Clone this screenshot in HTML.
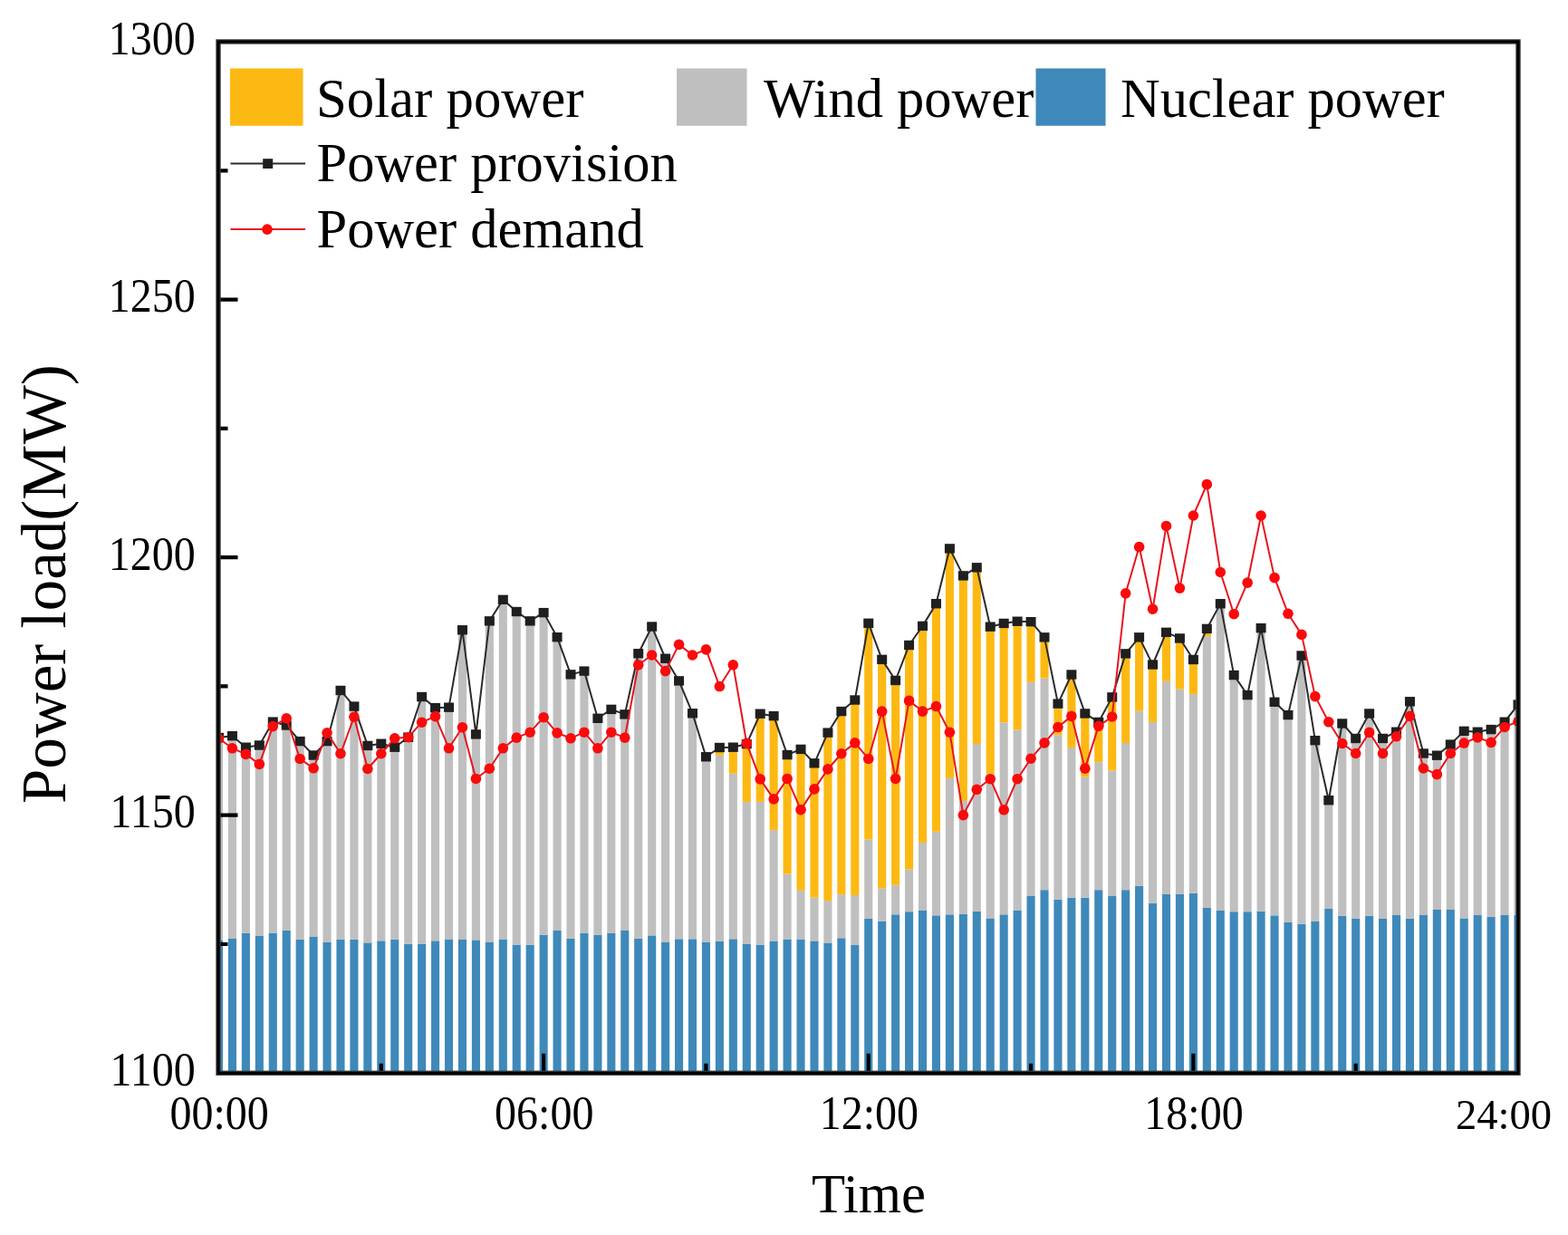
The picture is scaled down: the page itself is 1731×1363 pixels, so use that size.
<!DOCTYPE html>
<html lang="en"><head><meta charset="utf-8"><title>Power load</title>
<style>html,body{margin:0;padding:0;background:#fff;}body{width:1731px;height:1363px;overflow:hidden;}svg{display:block;}text{font-family:'Liberation Serif', 'Times New Roman', serif;fill:#000;}</style></head><body>
<svg width="1731" height="1363" viewBox="0 0 1731 1363" role="img" aria-label="Power load chart">
<rect x="0" y="0" width="1731" height="1363" fill="#ffffff"/>
<defs><clipPath id="plot"><rect x="241" y="46" width="1435" height="1138.3"/></clipPath></defs>
<g clip-path="url(#plot)" shape-rendering="auto">
<g fill="#3e89ba"><rect x="236.95" y="1038" width="9.1" height="146.3"/><rect x="251.89" y="1036" width="9.1" height="148.3"/><rect x="266.84" y="1029.6" width="9.1" height="154.7"/><rect x="281.78" y="1033" width="9.1" height="151.3"/><rect x="296.72" y="1029.6" width="9.1" height="154.7"/><rect x="311.66" y="1026.7" width="9.1" height="157.6"/><rect x="326.61" y="1036.8" width="9.1" height="147.5"/><rect x="341.55" y="1033.5" width="9.1" height="150.8"/><rect x="356.49" y="1039.7" width="9.1" height="144.6"/><rect x="371.43" y="1036.8" width="9.1" height="147.5"/><rect x="386.38" y="1036.8" width="9.1" height="147.5"/><rect x="401.32" y="1040.4" width="9.1" height="143.9"/><rect x="416.26" y="1038.3" width="9.1" height="146"/><rect x="431.21" y="1036.8" width="9.1" height="147.5"/><rect x="446.15" y="1041.9" width="9.1" height="142.4"/><rect x="461.09" y="1041.9" width="9.1" height="142.4"/><rect x="476.03" y="1038.3" width="9.1" height="146"/><rect x="490.98" y="1036.5" width="9.1" height="147.8"/><rect x="505.92" y="1037" width="9.1" height="147.3"/><rect x="520.86" y="1037.4" width="9.1" height="146.9"/><rect x="535.8" y="1040" width="9.1" height="144.3"/><rect x="550.75" y="1036.5" width="9.1" height="147.8"/><rect x="565.69" y="1042.6" width="9.1" height="141.7"/><rect x="580.63" y="1042.6" width="9.1" height="141.7"/><rect x="595.58" y="1031.8" width="9.1" height="152.5"/><rect x="610.52" y="1027" width="9.1" height="157.3"/><rect x="625.46" y="1035.9" width="9.1" height="148.4"/><rect x="640.4" y="1029.7" width="9.1" height="154.6"/><rect x="655.35" y="1031.8" width="9.1" height="152.5"/><rect x="670.29" y="1029.7" width="9.1" height="154.6"/><rect x="685.23" y="1027" width="9.1" height="157.3"/><rect x="700.17" y="1035.9" width="9.1" height="148.4"/><rect x="715.12" y="1032.4" width="9.1" height="151.9"/><rect x="730.06" y="1040" width="9.1" height="144.3"/><rect x="745" y="1036.3" width="9.1" height="148"/><rect x="759.94" y="1036.3" width="9.1" height="148"/><rect x="774.89" y="1040" width="9.1" height="144.3"/><rect x="789.83" y="1038.6" width="9.1" height="145.7"/><rect x="804.77" y="1036.3" width="9.1" height="148"/><rect x="819.72" y="1042" width="9.1" height="142.3"/><rect x="834.66" y="1042.6" width="9.1" height="141.7"/><rect x="849.6" y="1039" width="9.1" height="145.3"/><rect x="864.54" y="1036.5" width="9.1" height="147.8"/><rect x="879.49" y="1036.5" width="9.1" height="147.8"/><rect x="894.43" y="1038.4" width="9.1" height="145.9"/><rect x="909.37" y="1040.5" width="9.1" height="143.8"/><rect x="924.31" y="1035.3" width="9.1" height="149"/><rect x="939.26" y="1043" width="9.1" height="141.3"/><rect x="954.2" y="1014" width="9.1" height="170.3"/><rect x="969.14" y="1016.6" width="9.1" height="167.7"/><rect x="984.09" y="1009.3" width="9.1" height="175"/><rect x="999.03" y="1006.2" width="9.1" height="178.1"/><rect x="1013.97" y="1004.5" width="9.1" height="179.8"/><rect x="1028.91" y="1010.3" width="9.1" height="174"/><rect x="1043.86" y="1009.3" width="9.1" height="175"/><rect x="1058.8" y="1008.7" width="9.1" height="175.6"/><rect x="1073.74" y="1005.7" width="9.1" height="178.6"/><rect x="1088.68" y="1013.4" width="9.1" height="170.9"/><rect x="1103.63" y="1009.3" width="9.1" height="175"/><rect x="1118.57" y="1004.5" width="9.1" height="179.8"/><rect x="1133.51" y="988.5" width="9.1" height="195.8"/><rect x="1148.46" y="982.2" width="9.1" height="202.1"/><rect x="1163.4" y="992.6" width="9.1" height="191.7"/><rect x="1178.34" y="990.6" width="9.1" height="193.7"/><rect x="1193.28" y="990.6" width="9.1" height="193.7"/><rect x="1208.23" y="982.2" width="9.1" height="202.1"/><rect x="1223.17" y="988.5" width="9.1" height="195.8"/><rect x="1238.11" y="982.2" width="9.1" height="202.1"/><rect x="1253.05" y="978" width="9.1" height="206.3"/><rect x="1268" y="996.8" width="9.1" height="187.5"/><rect x="1282.94" y="987" width="9.1" height="197.3"/><rect x="1297.88" y="987" width="9.1" height="197.3"/><rect x="1312.83" y="985.8" width="9.1" height="198.5"/><rect x="1327.77" y="1002" width="9.1" height="182.3"/><rect x="1342.71" y="1005" width="9.1" height="179.3"/><rect x="1357.65" y="1006.2" width="9.1" height="178.1"/><rect x="1372.6" y="1006.2" width="9.1" height="178.1"/><rect x="1387.54" y="1005.7" width="9.1" height="178.6"/><rect x="1402.48" y="1010.3" width="9.1" height="174"/><rect x="1417.42" y="1017.6" width="9.1" height="166.7"/><rect x="1432.37" y="1019.7" width="9.1" height="164.6"/><rect x="1447.31" y="1017" width="9.1" height="167.3"/><rect x="1462.25" y="1003" width="9.1" height="181.3"/><rect x="1477.19" y="1010.7" width="9.1" height="173.6"/><rect x="1492.14" y="1014" width="9.1" height="170.3"/><rect x="1507.08" y="1010.7" width="9.1" height="173.6"/><rect x="1522.02" y="1014" width="9.1" height="170.3"/><rect x="1536.97" y="1010" width="9.1" height="174.3"/><rect x="1551.91" y="1014" width="9.1" height="170.3"/><rect x="1566.85" y="1010" width="9.1" height="174.3"/><rect x="1581.79" y="1004" width="9.1" height="180.3"/><rect x="1596.74" y="1004" width="9.1" height="180.3"/><rect x="1611.68" y="1013.4" width="9.1" height="170.9"/><rect x="1626.62" y="1010" width="9.1" height="174.3"/><rect x="1641.56" y="1011.6" width="9.1" height="172.7"/><rect x="1656.51" y="1010" width="9.1" height="174.3"/><rect x="1671.45" y="1010" width="9.1" height="174.3"/></g>
<g fill="#bfbfbf"><rect x="236.95" y="814" width="9.1" height="224"/><rect x="251.89" y="812.15" width="9.1" height="223.85"/><rect x="266.84" y="824.7" width="9.1" height="204.9"/><rect x="281.78" y="822.49" width="9.1" height="210.51"/><rect x="296.72" y="796.62" width="9.1" height="232.98"/><rect x="311.66" y="800.48" width="9.1" height="226.22"/><rect x="326.61" y="818.09" width="9.1" height="218.71"/><rect x="341.55" y="833.5" width="9.1" height="200"/><rect x="356.49" y="818.09" width="9.1" height="221.61"/><rect x="371.43" y="761.97" width="9.1" height="274.83"/><rect x="386.38" y="779.57" width="9.1" height="257.23"/><rect x="401.32" y="822.93" width="9.1" height="217.47"/><rect x="416.26" y="820.73" width="9.1" height="217.57"/><rect x="431.21" y="824.7" width="9.1" height="212.1"/><rect x="446.15" y="813.69" width="9.1" height="228.21"/><rect x="461.09" y="769.01" width="9.1" height="272.89"/><rect x="476.03" y="781.12" width="9.1" height="257.18"/><rect x="490.98" y="780.67" width="9.1" height="255.83"/><rect x="505.92" y="695.28" width="9.1" height="341.72"/><rect x="520.86" y="810.39" width="9.1" height="227.01"/><rect x="535.8" y="685.37" width="9.1" height="354.63"/><rect x="550.75" y="661.82" width="9.1" height="374.68"/><rect x="565.69" y="675.03" width="9.1" height="367.57"/><rect x="580.63" y="685.37" width="9.1" height="357.23"/><rect x="595.58" y="676.13" width="9.1" height="355.67"/><rect x="610.52" y="703.2" width="9.1" height="323.8"/><rect x="625.46" y="744.36" width="9.1" height="291.54"/><rect x="640.4" y="740.62" width="9.1" height="289.08"/><rect x="655.35" y="792.78" width="9.1" height="239.02"/><rect x="670.29" y="782.88" width="9.1" height="246.82"/><rect x="685.23" y="788.38" width="9.1" height="238.62"/><rect x="700.17" y="721.25" width="9.1" height="314.65"/><rect x="715.12" y="691.53" width="9.1" height="340.87"/><rect x="730.06" y="726.75" width="9.1" height="313.25"/><rect x="745" y="751.4" width="9.1" height="284.9"/><rect x="759.94" y="787.28" width="9.1" height="249.02"/><rect x="774.89" y="835.26" width="9.1" height="204.74"/><rect x="789.83" y="833.8" width="9.1" height="204.8"/><rect x="804.77" y="853.73" width="9.1" height="182.57"/><rect x="819.72" y="884.92" width="9.1" height="157.08"/><rect x="834.66" y="884.92" width="9.1" height="157.68"/><rect x="849.6" y="916.12" width="9.1" height="122.88"/><rect x="864.54" y="964.64" width="9.1" height="71.86"/><rect x="879.49" y="982.84" width="9.1" height="53.66"/><rect x="894.43" y="990.64" width="9.1" height="47.76"/><rect x="909.37" y="994.11" width="9.1" height="46.39"/><rect x="924.31" y="987.18" width="9.1" height="48.12"/><rect x="939.26" y="988.04" width="9.1" height="54.96"/><rect x="954.2" y="926.52" width="9.1" height="87.48"/><rect x="969.14" y="980.24" width="9.1" height="36.36"/><rect x="984.09" y="976.78" width="9.1" height="32.52"/><rect x="999.03" y="959.45" width="9.1" height="46.75"/><rect x="1013.97" y="929.98" width="9.1" height="74.52"/><rect x="1028.91" y="917.85" width="9.1" height="92.45"/><rect x="1043.86" y="858.93" width="9.1" height="150.37"/><rect x="1058.8" y="884" width="9.1" height="124.7"/><rect x="1073.74" y="821.02" width="9.1" height="184.68"/><rect x="1088.68" y="853.95" width="9.1" height="159.45"/><rect x="1103.63" y="797.33" width="9.1" height="211.97"/><rect x="1118.57" y="805.42" width="9.1" height="199.08"/><rect x="1133.51" y="752.88" width="9.1" height="235.62"/><rect x="1148.46" y="748.47" width="9.1" height="233.73"/><rect x="1163.4" y="811.2" width="9.1" height="181.4"/><rect x="1178.34" y="825.06" width="9.1" height="165.54"/><rect x="1193.28" y="857.41" width="9.1" height="133.19"/><rect x="1208.23" y="841.24" width="9.1" height="140.96"/><rect x="1223.17" y="850.48" width="9.1" height="138.02"/><rect x="1238.11" y="820.01" width="9.1" height="162.19"/><rect x="1253.05" y="784.79" width="9.1" height="193.21"/><rect x="1268" y="796.9" width="9.1" height="199.9"/><rect x="1282.94" y="751.78" width="9.1" height="235.22"/><rect x="1297.88" y="760.58" width="9.1" height="226.42"/><rect x="1312.83" y="766.08" width="9.1" height="219.72"/><rect x="1327.77" y="702.25" width="9.1" height="299.75"/><rect x="1342.71" y="666.27" width="9.1" height="338.73"/><rect x="1357.65" y="745.07" width="9.1" height="261.13"/><rect x="1372.6" y="767.08" width="9.1" height="239.12"/><rect x="1387.54" y="693.13" width="9.1" height="312.57"/><rect x="1402.48" y="774.78" width="9.1" height="235.52"/><rect x="1417.42" y="789.09" width="9.1" height="228.51"/><rect x="1432.37" y="723.5" width="9.1" height="296.2"/><rect x="1447.31" y="817.18" width="9.1" height="199.82"/><rect x="1462.25" y="883.21" width="9.1" height="119.79"/><rect x="1477.19" y="798.47" width="9.1" height="212.23"/><rect x="1492.14" y="814.98" width="9.1" height="199.02"/><rect x="1507.08" y="787.47" width="9.1" height="223.23"/><rect x="1522.02" y="814.98" width="9.1" height="199.02"/><rect x="1536.97" y="807.72" width="9.1" height="202.28"/><rect x="1551.91" y="774.26" width="9.1" height="239.74"/><rect x="1566.85" y="831.49" width="9.1" height="178.51"/><rect x="1581.79" y="833.69" width="9.1" height="170.31"/><rect x="1596.74" y="821.58" width="9.1" height="182.42"/><rect x="1611.68" y="806.84" width="9.1" height="206.56"/><rect x="1626.62" y="807.72" width="9.1" height="202.28"/><rect x="1641.56" y="805.08" width="9.1" height="206.52"/><rect x="1656.51" y="796.71" width="9.1" height="213.29"/><rect x="1671.45" y="777.56" width="9.1" height="232.44"/></g>
<g fill="#fdb913"><rect x="789.83" y="825" width="9.1" height="8.8"/><rect x="804.77" y="824.7" width="9.1" height="29.03"/><rect x="819.72" y="821.09" width="9.1" height="63.83"/><rect x="834.66" y="787.72" width="9.1" height="97.2"/><rect x="849.6" y="790.14" width="9.1" height="125.98"/><rect x="864.54" y="833.06" width="9.1" height="131.59"/><rect x="879.49" y="826.9" width="9.1" height="155.95"/><rect x="894.43" y="842.3" width="9.1" height="148.34"/><rect x="909.37" y="808.63" width="9.1" height="185.48"/><rect x="924.31" y="785.08" width="9.1" height="202.1"/><rect x="939.26" y="772.53" width="9.1" height="215.51"/><rect x="954.2" y="687.79" width="9.1" height="238.72"/><rect x="969.14" y="727.85" width="9.1" height="252.39"/><rect x="984.09" y="750.96" width="9.1" height="225.82"/><rect x="999.03" y="712" width="9.1" height="247.44"/><rect x="1013.97" y="690.87" width="9.1" height="239.11"/><rect x="1028.91" y="666.22" width="9.1" height="251.63"/><rect x="1043.86" y="605.41" width="9.1" height="253.52"/><rect x="1058.8" y="635.41" width="9.1" height="248.59"/><rect x="1073.74" y="626.32" width="9.1" height="194.7"/><rect x="1088.68" y="691.69" width="9.1" height="162.26"/><rect x="1103.63" y="687.95" width="9.1" height="109.39"/><rect x="1118.57" y="685.74" width="9.1" height="119.67"/><rect x="1133.51" y="686.18" width="9.1" height="66.69"/><rect x="1148.46" y="703.35" width="9.1" height="45.12"/><rect x="1163.4" y="776.65" width="9.1" height="34.55"/><rect x="1178.34" y="744.51" width="9.1" height="80.55"/><rect x="1193.28" y="787.43" width="9.1" height="69.98"/><rect x="1208.23" y="796.9" width="9.1" height="44.34"/><rect x="1223.17" y="769.38" width="9.1" height="81.1"/><rect x="1238.11" y="721.4" width="9.1" height="98.61"/><rect x="1253.05" y="703.35" width="9.1" height="81.44"/><rect x="1268" y="733.51" width="9.1" height="63.39"/><rect x="1282.94" y="697.85" width="9.1" height="53.93"/><rect x="1297.88" y="704.45" width="9.1" height="56.13"/><rect x="1312.83" y="728" width="9.1" height="38.08"/><rect x="1327.77" y="693.89" width="9.1" height="8.36"/></g>
</g>
<path d="M241 1042.01h10.5M241 899.72h21.5M241 757.44h10.5M241 615.15h21.5M241 472.86h10.5M241 330.57h21.5M241 188.29h10.5M420.81 1184.3v-10.5M600.12 1184.3v-21.5M779.44 1184.3v-10.5M958.75 1184.3v-21.5M1138.06 1184.3v-10.5M1317.38 1184.3v-21.5M1496.69 1184.3v-10.5" stroke="#000" stroke-width="4.2" fill="none"/>
<g clip-path="url(#plot)">
<polyline points="241.5,814 256.44,812.15 271.39,824.7 286.33,822.49 301.27,796.62 316.21,800.48 331.16,818.09 346.1,833.5 361.04,818.09 375.98,761.97 390.93,779.57 405.87,822.93 420.81,820.73 435.76,824.7 450.7,813.69 465.64,769.01 480.58,781.12 495.53,780.67 510.47,695.28 525.41,810.39 540.35,685.37 555.3,661.82 570.24,675.03 585.18,685.37 600.12,676.13 615.07,703.2 630.01,744.36 644.95,740.62 659.9,792.78 674.84,782.88 689.78,788.38 704.72,721.25 719.67,691.53 734.61,726.75 749.55,751.4 764.49,787.28 779.44,835.26 794.38,825 809.32,824.7 824.27,821.09 839.21,787.72 854.15,790.14 869.09,833.06 884.04,826.9 898.98,842.3 913.92,808.63 928.86,785.08 943.81,772.53 958.75,687.79 973.69,727.85 988.64,750.96 1003.58,712 1018.52,690.87 1033.46,666.22 1048.41,605.41 1063.35,635.41 1078.29,626.32 1093.23,691.69 1108.18,687.95 1123.12,685.74 1138.06,686.18 1153.01,703.35 1167.95,776.65 1182.89,744.51 1197.83,787.43 1212.78,796.9 1227.72,769.38 1242.66,721.4 1257.6,703.35 1272.55,733.51 1287.49,697.85 1302.43,704.45 1317.38,728 1332.32,693.89 1347.26,666.27 1362.2,745.07 1377.15,767.08 1392.09,693.13 1407.03,774.78 1421.97,789.09 1436.92,723.5 1451.86,817.18 1466.8,883.21 1481.74,798.47 1496.69,814.98 1511.63,787.47 1526.57,814.98 1541.52,807.72 1556.46,774.26 1571.4,831.49 1586.34,833.69 1601.29,821.58 1616.23,806.84 1631.17,807.72 1646.11,805.08 1661.06,796.71 1676,777.56" fill="none" stroke="#2b2b2b" stroke-width="2" stroke-linejoin="round"/>
<g fill="#1f1f1f"><rect x="236" y="808.8" width="11" height="10.4"/><rect x="250.94" y="806.95" width="11" height="10.4"/><rect x="265.89" y="819.5" width="11" height="10.4"/><rect x="280.83" y="817.29" width="11" height="10.4"/><rect x="295.77" y="791.42" width="11" height="10.4"/><rect x="310.71" y="795.28" width="11" height="10.4"/><rect x="325.66" y="812.89" width="11" height="10.4"/><rect x="340.6" y="828.3" width="11" height="10.4"/><rect x="355.54" y="812.89" width="11" height="10.4"/><rect x="370.48" y="756.77" width="11" height="10.4"/><rect x="385.43" y="774.37" width="11" height="10.4"/><rect x="400.37" y="817.73" width="11" height="10.4"/><rect x="415.31" y="815.53" width="11" height="10.4"/><rect x="430.26" y="819.5" width="11" height="10.4"/><rect x="445.2" y="808.49" width="11" height="10.4"/><rect x="460.14" y="763.81" width="11" height="10.4"/><rect x="475.08" y="775.92" width="11" height="10.4"/><rect x="490.03" y="775.47" width="11" height="10.4"/><rect x="504.97" y="690.08" width="11" height="10.4"/><rect x="519.91" y="805.19" width="11" height="10.4"/><rect x="534.85" y="680.17" width="11" height="10.4"/><rect x="549.8" y="656.62" width="11" height="10.4"/><rect x="564.74" y="669.83" width="11" height="10.4"/><rect x="579.68" y="680.17" width="11" height="10.4"/><rect x="594.62" y="670.93" width="11" height="10.4"/><rect x="609.57" y="698" width="11" height="10.4"/><rect x="624.51" y="739.16" width="11" height="10.4"/><rect x="639.45" y="735.42" width="11" height="10.4"/><rect x="654.4" y="787.58" width="11" height="10.4"/><rect x="669.34" y="777.68" width="11" height="10.4"/><rect x="684.28" y="783.18" width="11" height="10.4"/><rect x="699.22" y="716.05" width="11" height="10.4"/><rect x="714.17" y="686.33" width="11" height="10.4"/><rect x="729.11" y="721.55" width="11" height="10.4"/><rect x="744.05" y="746.2" width="11" height="10.4"/><rect x="758.99" y="782.08" width="11" height="10.4"/><rect x="773.94" y="830.06" width="11" height="10.4"/><rect x="788.88" y="819.8" width="11" height="10.4"/><rect x="803.82" y="819.5" width="11" height="10.4"/><rect x="818.77" y="815.89" width="11" height="10.4"/><rect x="833.71" y="782.52" width="11" height="10.4"/><rect x="848.65" y="784.94" width="11" height="10.4"/><rect x="863.59" y="827.86" width="11" height="10.4"/><rect x="878.54" y="821.7" width="11" height="10.4"/><rect x="893.48" y="837.1" width="11" height="10.4"/><rect x="908.42" y="803.43" width="11" height="10.4"/><rect x="923.36" y="779.88" width="11" height="10.4"/><rect x="938.31" y="767.33" width="11" height="10.4"/><rect x="953.25" y="682.59" width="11" height="10.4"/><rect x="968.19" y="722.65" width="11" height="10.4"/><rect x="983.14" y="745.76" width="11" height="10.4"/><rect x="998.08" y="706.8" width="11" height="10.4"/><rect x="1013.02" y="685.67" width="11" height="10.4"/><rect x="1027.96" y="661.02" width="11" height="10.4"/><rect x="1042.91" y="600.21" width="11" height="10.4"/><rect x="1057.85" y="630.21" width="11" height="10.4"/><rect x="1072.79" y="621.12" width="11" height="10.4"/><rect x="1087.73" y="686.49" width="11" height="10.4"/><rect x="1102.68" y="682.75" width="11" height="10.4"/><rect x="1117.62" y="680.54" width="11" height="10.4"/><rect x="1132.56" y="680.98" width="11" height="10.4"/><rect x="1147.51" y="698.15" width="11" height="10.4"/><rect x="1162.45" y="771.45" width="11" height="10.4"/><rect x="1177.39" y="739.31" width="11" height="10.4"/><rect x="1192.33" y="782.23" width="11" height="10.4"/><rect x="1207.28" y="791.7" width="11" height="10.4"/><rect x="1222.22" y="764.18" width="11" height="10.4"/><rect x="1237.16" y="716.2" width="11" height="10.4"/><rect x="1252.1" y="698.15" width="11" height="10.4"/><rect x="1267.05" y="728.31" width="11" height="10.4"/><rect x="1281.99" y="692.65" width="11" height="10.4"/><rect x="1296.93" y="699.25" width="11" height="10.4"/><rect x="1311.88" y="722.8" width="11" height="10.4"/><rect x="1326.82" y="688.69" width="11" height="10.4"/><rect x="1341.76" y="661.07" width="11" height="10.4"/><rect x="1356.7" y="739.87" width="11" height="10.4"/><rect x="1371.65" y="761.88" width="11" height="10.4"/><rect x="1386.59" y="687.93" width="11" height="10.4"/><rect x="1401.53" y="769.58" width="11" height="10.4"/><rect x="1416.47" y="783.89" width="11" height="10.4"/><rect x="1431.42" y="718.3" width="11" height="10.4"/><rect x="1446.36" y="811.98" width="11" height="10.4"/><rect x="1461.3" y="878.01" width="11" height="10.4"/><rect x="1476.24" y="793.27" width="11" height="10.4"/><rect x="1491.19" y="809.78" width="11" height="10.4"/><rect x="1506.13" y="782.27" width="11" height="10.4"/><rect x="1521.07" y="809.78" width="11" height="10.4"/><rect x="1536.02" y="802.52" width="11" height="10.4"/><rect x="1550.96" y="769.06" width="11" height="10.4"/><rect x="1565.9" y="826.29" width="11" height="10.4"/><rect x="1580.84" y="828.49" width="11" height="10.4"/><rect x="1595.79" y="816.38" width="11" height="10.4"/><rect x="1610.73" y="801.64" width="11" height="10.4"/><rect x="1625.67" y="802.52" width="11" height="10.4"/><rect x="1640.61" y="799.88" width="11" height="10.4"/><rect x="1655.56" y="791.51" width="11" height="10.4"/><rect x="1670.5" y="772.36" width="11" height="10.4"/></g>
<polyline points="241.5,815 256.44,825.8 271.39,832.4 286.33,843.4 301.27,801.58 316.21,792.78 331.16,837.46 346.1,847.81 361.04,808.85 375.98,831.74 390.93,791.24 405.87,848.47 420.81,831.74 435.76,814.79 450.7,813.69 465.64,797.18 480.58,790.58 495.53,825.8 510.47,802.69 525.41,859.47 540.35,848.25 555.3,825.8 570.24,814.13 585.18,808.19 600.12,791.68 615.07,808.85 630.01,814.79 644.95,808.19 659.9,825.8 674.84,808.19 689.78,814.13 704.72,733.79 719.67,723.01 734.61,740.62 749.55,711.34 764.49,723.01 779.44,716.85 794.38,757.56 809.32,733.79 824.27,820.29 839.21,859.91 854.15,881.92 869.09,859.47 884.04,893.59 898.98,870.92 913.92,848.91 928.86,831.74 943.81,819.85 958.75,837.46 973.69,785.08 988.64,859.47 1003.58,773.41 1018.52,785.08 1033.46,779.57 1048.41,808.19 1063.35,899.58 1078.29,871.28 1093.23,859.72 1108.18,893.81 1123.12,859.72 1138.06,837.19 1153.01,819.86 1167.95,802.53 1182.89,790.4 1197.83,848.17 1212.78,801.37 1227.72,790.98 1242.66,654.83 1257.6,603.54 1272.55,672.22 1287.49,580.43 1302.43,649.1 1317.38,568.99 1332.32,534.65 1347.26,631.5 1362.2,677.72 1377.15,643.16 1392.09,568.99 1407.03,637.66 1421.97,677.28 1436.92,700.39 1451.86,768.62 1466.8,796.79 1481.74,820.48 1496.69,831.49 1511.63,808.38 1526.57,831.49 1541.52,812.78 1556.46,790.33 1571.4,848 1586.34,854.6 1601.29,831.49 1616.23,820.04 1631.17,813.88 1646.11,819.38 1661.06,802.44 1676,796.27" fill="none" stroke="#e8141e" stroke-width="2.0" stroke-linejoin="round"/>
<g fill="#fa0a0a"><circle cx="241.5" cy="815" r="5.8"/><circle cx="256.44" cy="825.8" r="5.8"/><circle cx="271.39" cy="832.4" r="5.8"/><circle cx="286.33" cy="843.4" r="5.8"/><circle cx="301.27" cy="801.58" r="5.8"/><circle cx="316.21" cy="792.78" r="5.8"/><circle cx="331.16" cy="837.46" r="5.8"/><circle cx="346.1" cy="847.81" r="5.8"/><circle cx="361.04" cy="808.85" r="5.8"/><circle cx="375.98" cy="831.74" r="5.8"/><circle cx="390.93" cy="791.24" r="5.8"/><circle cx="405.87" cy="848.47" r="5.8"/><circle cx="420.81" cy="831.74" r="5.8"/><circle cx="435.76" cy="814.79" r="5.8"/><circle cx="450.7" cy="813.69" r="5.8"/><circle cx="465.64" cy="797.18" r="5.8"/><circle cx="480.58" cy="790.58" r="5.8"/><circle cx="495.53" cy="825.8" r="5.8"/><circle cx="510.47" cy="802.69" r="5.8"/><circle cx="525.41" cy="859.47" r="5.8"/><circle cx="540.35" cy="848.25" r="5.8"/><circle cx="555.3" cy="825.8" r="5.8"/><circle cx="570.24" cy="814.13" r="5.8"/><circle cx="585.18" cy="808.19" r="5.8"/><circle cx="600.12" cy="791.68" r="5.8"/><circle cx="615.07" cy="808.85" r="5.8"/><circle cx="630.01" cy="814.79" r="5.8"/><circle cx="644.95" cy="808.19" r="5.8"/><circle cx="659.9" cy="825.8" r="5.8"/><circle cx="674.84" cy="808.19" r="5.8"/><circle cx="689.78" cy="814.13" r="5.8"/><circle cx="704.72" cy="733.79" r="5.8"/><circle cx="719.67" cy="723.01" r="5.8"/><circle cx="734.61" cy="740.62" r="5.8"/><circle cx="749.55" cy="711.34" r="5.8"/><circle cx="764.49" cy="723.01" r="5.8"/><circle cx="779.44" cy="716.85" r="5.8"/><circle cx="794.38" cy="757.56" r="5.8"/><circle cx="809.32" cy="733.79" r="5.8"/><circle cx="824.27" cy="820.29" r="5.8"/><circle cx="839.21" cy="859.91" r="5.8"/><circle cx="854.15" cy="881.92" r="5.8"/><circle cx="869.09" cy="859.47" r="5.8"/><circle cx="884.04" cy="893.59" r="5.8"/><circle cx="898.98" cy="870.92" r="5.8"/><circle cx="913.92" cy="848.91" r="5.8"/><circle cx="928.86" cy="831.74" r="5.8"/><circle cx="943.81" cy="819.85" r="5.8"/><circle cx="958.75" cy="837.46" r="5.8"/><circle cx="973.69" cy="785.08" r="5.8"/><circle cx="988.64" cy="859.47" r="5.8"/><circle cx="1003.58" cy="773.41" r="5.8"/><circle cx="1018.52" cy="785.08" r="5.8"/><circle cx="1033.46" cy="779.57" r="5.8"/><circle cx="1048.41" cy="808.19" r="5.8"/><circle cx="1063.35" cy="899.58" r="5.8"/><circle cx="1078.29" cy="871.28" r="5.8"/><circle cx="1093.23" cy="859.72" r="5.8"/><circle cx="1108.18" cy="893.81" r="5.8"/><circle cx="1123.12" cy="859.72" r="5.8"/><circle cx="1138.06" cy="837.19" r="5.8"/><circle cx="1153.01" cy="819.86" r="5.8"/><circle cx="1167.95" cy="802.53" r="5.8"/><circle cx="1182.89" cy="790.4" r="5.8"/><circle cx="1197.83" cy="848.17" r="5.8"/><circle cx="1212.78" cy="801.37" r="5.8"/><circle cx="1227.72" cy="790.98" r="5.8"/><circle cx="1242.66" cy="654.83" r="5.8"/><circle cx="1257.6" cy="603.54" r="5.8"/><circle cx="1272.55" cy="672.22" r="5.8"/><circle cx="1287.49" cy="580.43" r="5.8"/><circle cx="1302.43" cy="649.1" r="5.8"/><circle cx="1317.38" cy="568.99" r="5.8"/><circle cx="1332.32" cy="534.65" r="5.8"/><circle cx="1347.26" cy="631.5" r="5.8"/><circle cx="1362.2" cy="677.72" r="5.8"/><circle cx="1377.15" cy="643.16" r="5.8"/><circle cx="1392.09" cy="568.99" r="5.8"/><circle cx="1407.03" cy="637.66" r="5.8"/><circle cx="1421.97" cy="677.28" r="5.8"/><circle cx="1436.92" cy="700.39" r="5.8"/><circle cx="1451.86" cy="768.62" r="5.8"/><circle cx="1466.8" cy="796.79" r="5.8"/><circle cx="1481.74" cy="820.48" r="5.8"/><circle cx="1496.69" cy="831.49" r="5.8"/><circle cx="1511.63" cy="808.38" r="5.8"/><circle cx="1526.57" cy="831.49" r="5.8"/><circle cx="1541.52" cy="812.78" r="5.8"/><circle cx="1556.46" cy="790.33" r="5.8"/><circle cx="1571.4" cy="848" r="5.8"/><circle cx="1586.34" cy="854.6" r="5.8"/><circle cx="1601.29" cy="831.49" r="5.8"/><circle cx="1616.23" cy="820.04" r="5.8"/><circle cx="1631.17" cy="813.88" r="5.8"/><circle cx="1646.11" cy="819.38" r="5.8"/><circle cx="1661.06" cy="802.44" r="5.8"/><circle cx="1676" cy="796.27" r="5.8"/></g>
</g>
<rect x="241" y="46" width="1435" height="1138.3" fill="none" stroke="#3d3d3d" stroke-width="5.4"/>
<rect x="241" y="46" width="1435" height="1138.3" fill="none" stroke="#000" stroke-width="3"/>
<text transform="translate(215.8 1197.9) scale(0.92 1)" font-size="52.2" text-anchor="end">1100</text>
<text transform="translate(215.8 913.32) scale(0.92 1)" font-size="52.2" text-anchor="end">1150</text>
<text transform="translate(215.8 628.75) scale(0.92 1)" font-size="52.2" text-anchor="end">1200</text>
<text transform="translate(215.8 344.17) scale(0.92 1)" font-size="52.2" text-anchor="end">1250</text>
<text transform="translate(215.8 59.6) scale(0.92 1)" font-size="52.2" text-anchor="end">1300</text>
<text transform="translate(242.1 1245.8) scale(0.92 1)" font-size="52.2" text-anchor="middle">00:00</text>
<text transform="translate(600.73 1245.8) scale(0.92 1)" font-size="52.2" text-anchor="middle">06:00</text>
<text transform="translate(959.35 1245.8) scale(0.92 1)" font-size="52.2" text-anchor="middle">12:00</text>
<text transform="translate(1317.97 1245.8) scale(0.92 1)" font-size="52.2" text-anchor="middle">18:00</text>
<text transform="translate(1660 1246.4) scale(1 1)" font-size="46.6" text-anchor="middle">24:00</text>
<text x="959" y="1338" font-size="60.8" text-anchor="middle">Time</text>
<text transform="translate(71.6 644.6) rotate(-90)" font-size="69" text-anchor="middle">Power load(MW)</text>
<rect x="254" y="75.5" width="80.5" height="63.3" fill="#fdb913"/>
<rect x="747" y="75.5" width="77.5" height="63.3" fill="#bfbfbf"/>
<rect x="1143.5" y="75.5" width="77" height="63.3" fill="#3e89ba"/>
<text x="349" y="128.5" font-size="60.8">Solar power</text>
<text x="843" y="128.5" font-size="60.5">Wind power</text>
<text x="1237" y="128.5" font-size="60.5">Nuclear power</text>
<path d="M254.5 180.6H337" stroke="#2b2b2b" stroke-width="2" fill="none"/>
<rect x="290.2" y="175.2" width="11" height="10.8" fill="#1f1f1f"/>
<text x="349.5" y="200.4" font-size="60.5">Power provision</text>
<path d="M254.5 253.1H337" stroke="#e8141e" stroke-width="2.0" fill="none"/>
<circle cx="295" cy="253.1" r="5.8" fill="#fa0a0a"/>
<text x="349.5" y="273.4" font-size="60.5">Power demand</text>
</svg></body></html>
